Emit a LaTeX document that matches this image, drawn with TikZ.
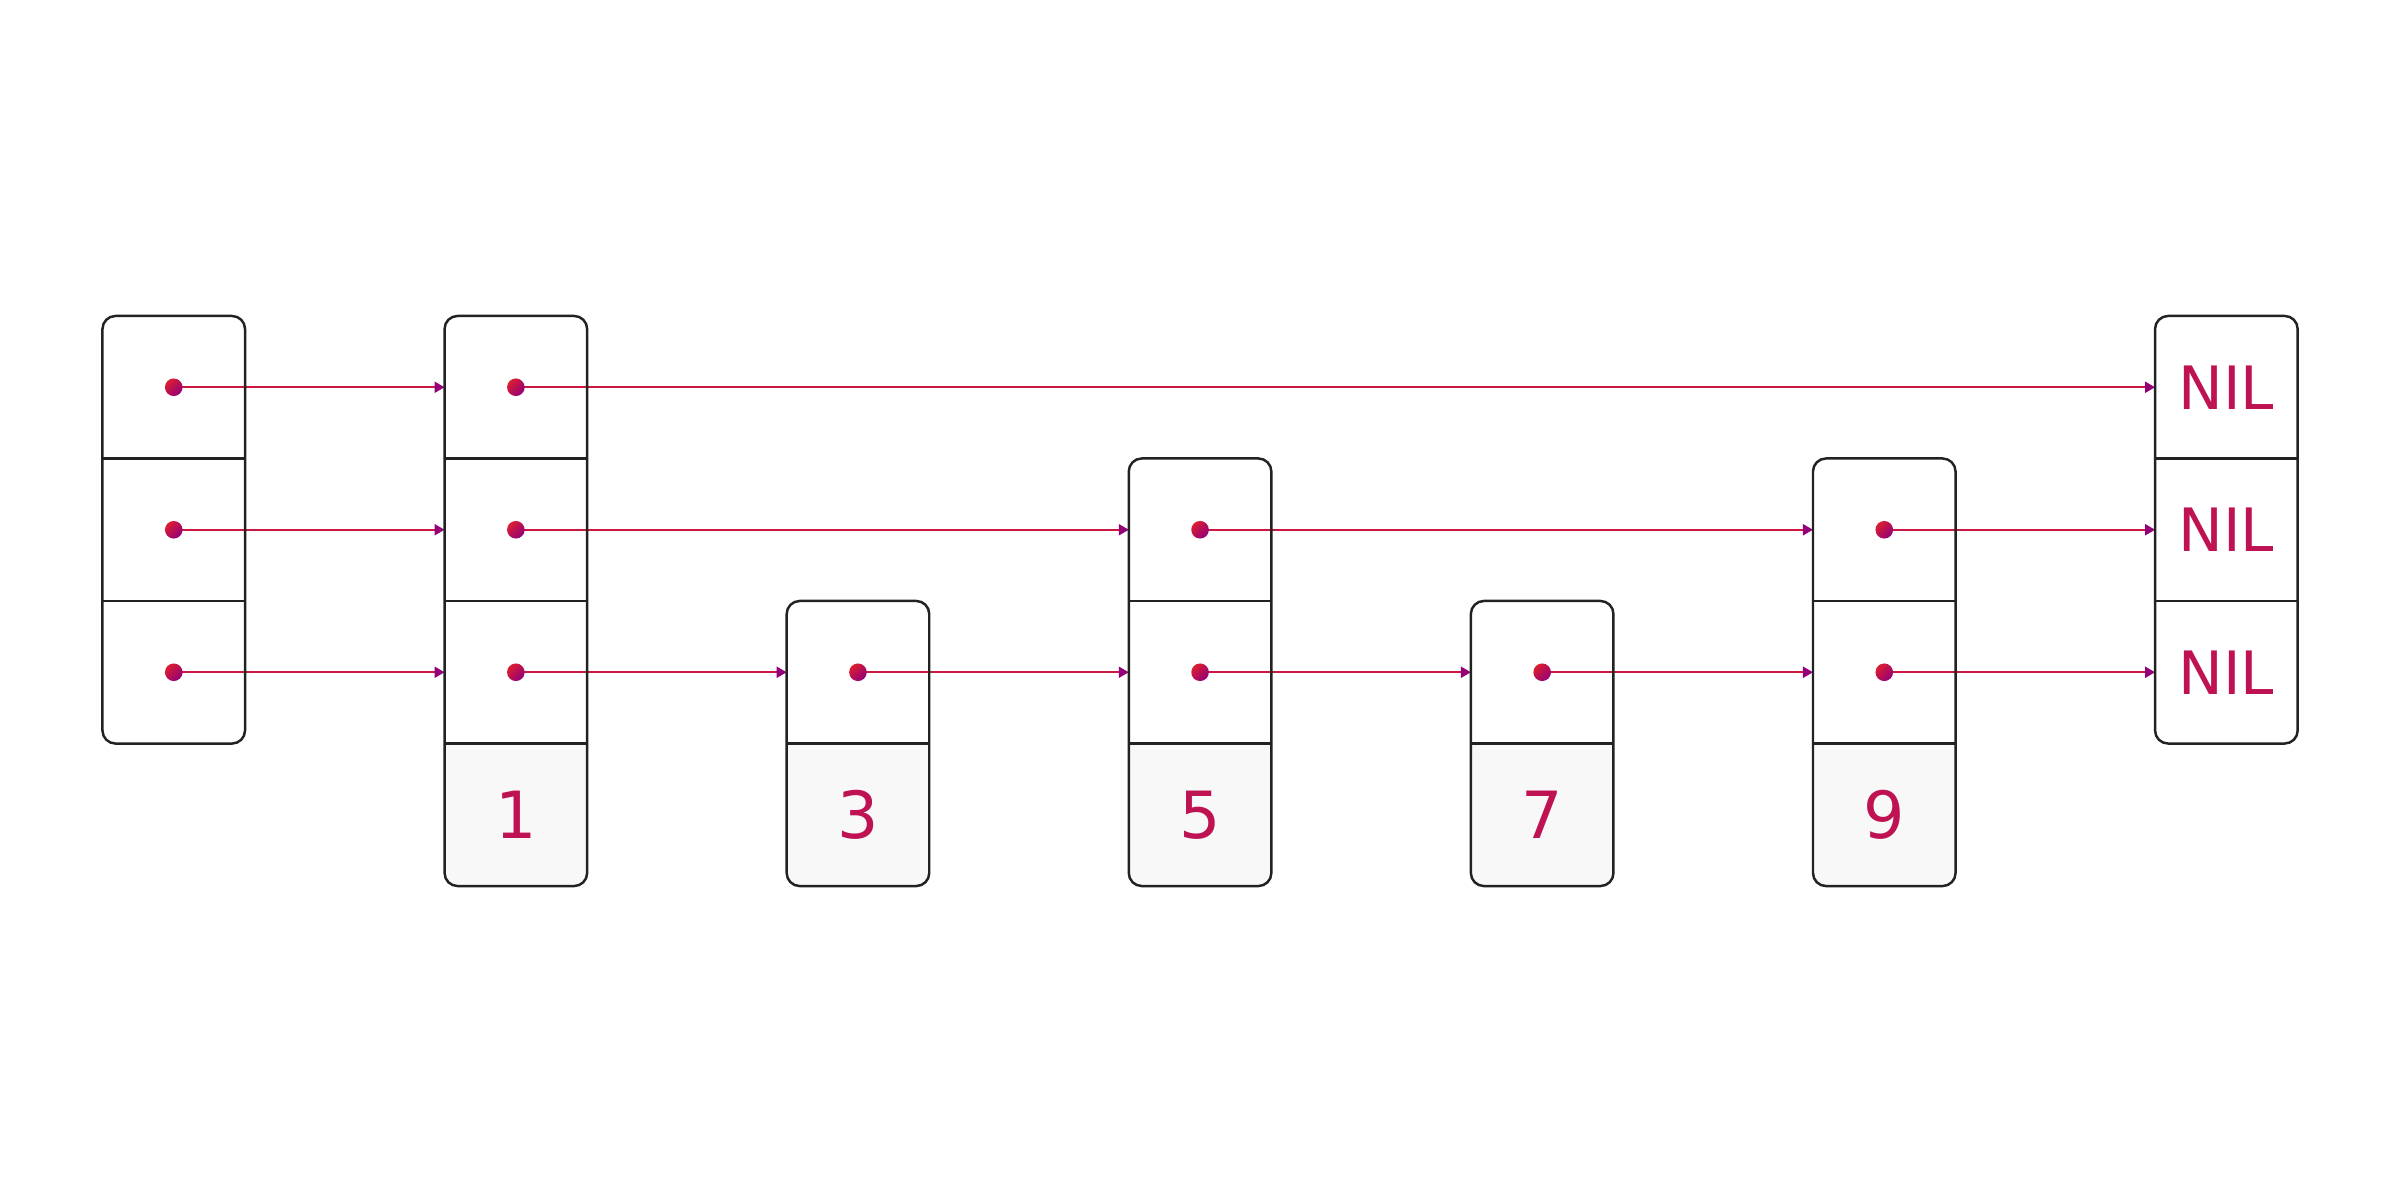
\documentclass[tikz,border=0pt]{standalone}
\usepackage{fontspec}
\setmainfont{DejaVu Sans}
\usetikzlibrary{arrows.meta}
\definecolor{boxline}{HTML}{222222}
\definecolor{keyfill}{HTML}{F8F8F8}
\definecolor{lred}{HTML}{DC1E30}
\definecolor{lpurple}{HTML}{930078}
\definecolor{lmid}{HTML}{CC1840}
\definecolor{txt}{HTML}{BE1252}
\tikzset{
  cell/.style={draw=none, minimum width=1.425cm, minimum height=1.425cm, inner sep=0pt, outer sep=0pt,
    font=\fontsize{17}{20}\selectfont, text=txt},
  keylabel/.style={cell, font=\fontsize{18.5}{22}\selectfont},
  outline/.style={draw=boxline, line width=0.7pt, rounded corners=0.13cm},
  divider/.style={draw=boxline, line width=0.7pt},
  link/.style={draw=lmid, line width=0.55pt, -{Triangle[length=0.1cm,width=0.11cm,color=lpurple]}},
  dotshade/.style={left color=lred, right color=lpurple, shading angle=45}
}
\begin{document}
\begin{tikzpicture}[x=0.01cm,y=-0.01cm]
\useasboundingbox (0,0) rectangle (2400,1200);
% cells
\foreach \k/\rs/\re in {0/0/2, 1/0/3, 2/2/3, 3/1/3, 4/2/3, 5/1/3, 6/0/2}{
  \foreach \r in {\rs,...,\re}{
    \node[cell] (n\k r\r) at ({173.75+342.1*\k},{387.25+142.5*\r}) {};
  }
}
% key cells fill
\foreach \k/\rs in {1/0, 2/2, 3/1, 4/2, 5/1}{
  \begin{scope}
    \clip (n\k r3.north west) rectangle (n\k r3.south east);
    \fill[keyfill, rounded corners=0.13cm] (n\k r\rs.north west) rectangle (n\k r3.south east);
  \end{scope}
}
% labels
\node[keylabel] at (n1r3) {1};
\node[keylabel] at (n2r3) {3};
\node[keylabel] at (n3r3) {5};
\node[keylabel] at (n4r3) {7};
\node[keylabel] at (n5r3) {9};
\foreach \r in {0,1,2}{ \node[cell] at (n6r\r) {NIL}; }
% links
\draw[link] (n0r0.center) -- (n1r0.west);
\draw[link] (n0r1.center) -- (n1r1.west);
\draw[link] (n0r2.center) -- (n1r2.west);
\draw[link] (n1r0.center) -- (n6r0.west);
\draw[link] (n1r1.center) -- (n3r1.west);
\draw[link] (n3r1.center) -- (n5r1.west);
\draw[link] (n5r1.center) -- (n6r1.west);
\draw[link] (n1r2.center) -- (n2r2.west);
\draw[link] (n2r2.center) -- (n3r2.west);
\draw[link] (n3r2.center) -- (n4r2.west);
\draw[link] (n4r2.center) -- (n5r2.west);
\draw[link] (n5r2.center) -- (n6r2.west);
% dots
\foreach \c in {n0r0,n0r1,n0r2,n1r0,n1r1,n1r2,n2r2,n3r1,n3r2,n4r2,n5r1,n5r2}{
  \shade[dotshade] (\c.center) circle[radius=0.088cm];
}
% outlines and dividers
\foreach \k/\rs/\re in {0/0/2, 1/0/3, 2/2/3, 3/1/3, 4/2/3, 5/1/3, 6/0/2}{
  \path[outline] (n\k r\rs.north west) rectangle (n\k r\re.south east);
}
\foreach \c in {n0r0,n0r1,n1r0,n1r1,n1r2,n2r2,n3r1,n3r2,n4r2,n5r1,n5r2,n6r0,n6r1}{
  \path[divider] (\c.south west) -- (\c.south east);
}
\end{tikzpicture}
\end{document}
